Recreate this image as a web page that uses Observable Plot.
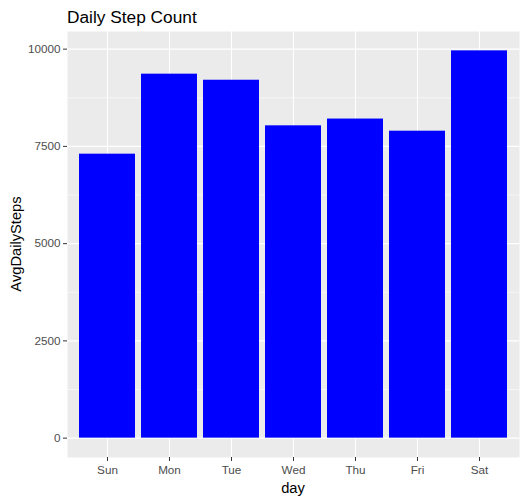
<!DOCTYPE html>
<html>
<head>
<meta charset="utf-8">
<script src="https://cdn.jsdelivr.net/npm/d3@7"></script>
<script src="https://cdn.jsdelivr.net/npm/@observablehq/plot@0.6"></script>
<style>
  html, body { margin: 0; padding: 0; background: #fff; }
  svg { font-family: "Liberation Sans", Arial, sans-serif; }
</style>
</head>
<body>
<div id="chart"></div>
<script>
const days = ["Sun", "Mon", "Tue", "Wed", "Thu", "Fri", "Sat"];
const avgSteps = [7300, 9357, 9201, 8029, 8203, 7891, 9956];
const yTicks = [0, 2500, 5000, 7500, 10000];
const yMinor = [1250, 3750, 6250, 8750];
const title = "Daily Step Count";
const xLabel = "day";
const yLabel = "AvgDailySteps";

const data = days.map((d, i) => ({day: d, steps: avgSteps[i]}));
const ymax = d3.max(avgSteps);
const pad = 0.05 * ymax;

const W = 527, H = 501;
const mL = 67, mT = 31, mR = 8, mB = 44;

const plot = Plot.plot({
  width: W,
  height: H,
  marginLeft: mL,
  marginTop: mT,
  marginRight: mR,
  marginBottom: mB,
  style: {fontFamily: "Liberation Sans, Arial, sans-serif", background: "white"},
  x: {domain: days, paddingInner: 0.1, paddingOuter: 0.15, align: 0.5, label: null},
  y: {domain: [-pad, ymax + pad], label: null},
  marks: [
    Plot.frame({fill: "#EBEBEB", stroke: null}),
    Plot.ruleY(yMinor, {stroke: "white", strokeWidth: 0.55}),
    Plot.ruleY(yTicks, {stroke: "white", strokeWidth: 1.1}),
    Plot.ruleX(days, {stroke: "white", strokeWidth: 1.1}),
    Plot.barY(data, {x: "day", y: "steps", fill: "blue"}),
    Plot.axisY(yTicks, {tickSize: 4, tickPadding: 3, tickFormat: d3.format("d"), color: "#4D4D4D", label: null}),
    Plot.axisX(days, {tickSize: 4, tickPadding: 4, color: "#4D4D4D", label: null})
  ]
});

const svg = d3.select(plot);
svg.selectAll("[aria-label='y-axis tick'], [aria-label='x-axis tick']").attr("stroke", "#333333");
svg.selectAll("g[aria-label='y-axis tick label'] text, g[aria-label='x-axis tick label'] text")
  .style("font-size", "11.7px").style("fill", "#4D4D4D");

svg.append("text")
  .attr("x", mL).attr("y", 23)
  .attr("text-anchor", "start")
  .attr("font-size", 17.3).attr("fill", "black")
  .text(title);

svg.append("text")
  .attr("x", mL + (W - mL - mR) / 2).attr("y", 493)
  .attr("text-anchor", "middle")
  .attr("font-size", 14.7).attr("fill", "black")
  .text(xLabel);

svg.append("text")
  .attr("transform", `translate(21, ${mT + (H - mT - mB) / 2}) rotate(-90)`)
  .attr("text-anchor", "middle")
  .attr("font-size", 14.7).attr("fill", "black")
  .text(yLabel);

document.getElementById("chart").appendChild(plot);
</script>
</body>
</html>
